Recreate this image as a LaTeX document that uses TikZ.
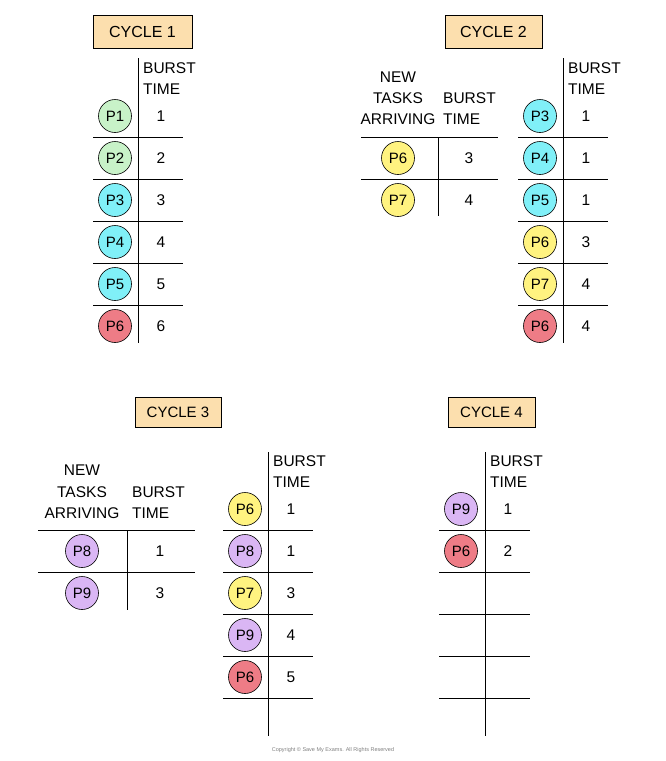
\documentclass[tikz,border=0pt]{standalone}
\usepackage{fontspec}
\setmainfont{Liberation Sans}
\definecolor{cg}{HTML}{C8F2C8}
\definecolor{cc}{HTML}{80F0F8}
\definecolor{cy}{HTML}{FFF380}
\definecolor{cr}{HTML}{EE7C86}
\definecolor{cp}{HTML}{DAB6F4}
\definecolor{co}{HTML}{FCDFAE}
\begin{document}
\begin{tikzpicture}[x=1pt,y=-1pt,
  txt/.style={font=\fontsize{15.5}{15.5}\selectfont,inner sep=0pt},
  hd/.style={txt,anchor=west},
  proc/.style={circle,draw,line width=0.6pt,minimum size=33pt,inner sep=0pt,font=\fontsize{15}{15}\selectfont},
  pg/.style={proc,fill=cg},
  pc/.style={proc,fill=cc},
  py/.style={proc,fill=cy},
  pr/.style={proc,fill=cr},
  pp/.style={proc,fill=cp},
  cyc/.style={draw,line width=0.6pt,fill=co,font=\fontsize{16}{16}\selectfont,inner sep=0pt},
  ln/.style={line width=0.6pt}]
\useasboundingbox (0,0) rectangle (665,761);
% Cycle boxes
\node[cyc,minimum width=99pt,minimum height=33pt] (c1) at (142.5,31.5) {CYCLE 1};
\node[cyc,minimum width=97pt,minimum height=33pt] (c2) at (493.5,31.5) {CYCLE 2};
\node[cyc,minimum width=86pt,minimum height=30pt,font=\fontsize{15}{15}\selectfont] (c3) at (178,412) {CYCLE 3};
\node[cyc,minimum width=87pt,minimum height=30pt,font=\fontsize{15}{15}\selectfont] (c4) at (491.5,412) {CYCLE 4};
% ---- Cycle 1 table
\draw[ln] (138,58) -- (138,343);
\foreach \y in {137,179,221,263,305} \draw[ln] (93,\y) -- (183,\y);
\node[hd] (h1a) at (143,68) {BURST};
\node[hd] (h1b) at (143,89) {TIME};
\foreach \n/\s/\y/\v in {P1/pg/116/1,P2/pg/158/2,P3/pc/200/3,P4/pc/242/4,P5/pc/284/5,P6/pr/326/6}{
  \node[\s] (a\n) at (115,\y) {\n};
  \node[txt] (av\n) at (161,\y) {\v};}
% ---- Cycle 2 new tasks
\draw[ln] (438,137) -- (438,216);
\foreach \y in {137,179} \draw[ln] (361,\y) -- (498,\y);
\node[txt] (n2a) at (398,77) {NEW};
\node[txt] (n2b) at (398,98) {TASKS};
\node[txt] (n2c) at (398,119) {ARRIVING};
\node[hd] (n2d) at (443,98) {BURST};
\node[hd] (n2e) at (443,119) {TIME};
\foreach \n/\s/\y/\v/\k in {P6/py/158/3/1,P7/py/200/4/2}{
  \node[\s] (b\k) at (398,\y) {\n};
  \node[txt] (bv\k) at (469,\y) {\v};}
% ---- Cycle 2 table
\draw[ln] (563,58) -- (563,343);
\foreach \y in {137,179,221,263,305} \draw[ln] (518,\y) -- (608,\y);
\node[hd] (h2a) at (568,68) {BURST};
\node[hd] (h2b) at (568,89) {TIME};
\foreach \n/\s/\y/\v/\k in {P3/pc/116/1/1,P4/pc/158/1/2,P5/pc/200/1/3,P6/py/242/3/4,P7/py/284/4/5,P6/pr/326/4/6}{
  \node[\s] (c\k) at (540,\y) {\n};
  \node[txt] (cv\k) at (586,\y) {\v};}
% ---- Cycle 3 new tasks
\draw[ln] (127,530) -- (127,610);
\foreach \y in {530,572} \draw[ln] (38,\y) -- (195,\y);
\node[txt] (n3a) at (82,470) {NEW};
\node[txt] (n3b) at (82,492) {TASKS};
\node[txt] (n3c) at (82,513) {ARRIVING};
\node[hd] (n3d) at (132,492) {BURST};
\node[hd] (n3e) at (132,513) {TIME};
\foreach \n/\s/\y/\v/\k in {P8/pp/551/1/1,P9/pp/593/3/2}{
  \node[\s] (d\k) at (82,\y) {\n};
  \node[txt] (dv\k) at (160,\y) {\v};}
% ---- Cycle 3 table
\draw[ln] (268,452) -- (268,736);
\foreach \y in {530,572,614,656,698} \draw[ln] (223,\y) -- (313,\y);
\node[hd] (h3a) at (273,461) {BURST};
\node[hd] (h3b) at (273,482) {TIME};
\foreach \n/\s/\y/\v/\k in {P6/py/509/1/1,P8/pp/551/1/2,P7/py/593/3/3,P9/pp/635/4/4,P6/pr/677/5/5}{
  \node[\s] (e\k) at (245,\y) {\n};
  \node[txt] (ev\k) at (291,\y) {\v};}
% ---- Cycle 4 table
\draw[ln] (485,452) -- (485,736);
\foreach \y in {530,572,614,656,698} \draw[ln] (439,\y) -- (530,\y);
\node[hd] (h4a) at (490,461) {BURST};
\node[hd] (h4b) at (490,482) {TIME};
\foreach \n/\s/\y/\v/\k in {P9/pp/509/1/1,P6/pr/551/2/2}{
  \node[\s] (f\k) at (461,\y) {\n};
  \node[txt] (fv\k) at (508,\y) {\v};}
\node[font=\fontsize{5.5}{5.5}\selectfont,text=gray] (copy) at (333,750) {Copyright \textcopyright\ Save My Exams. All Rights Reserved};
\end{tikzpicture}
\end{document}
